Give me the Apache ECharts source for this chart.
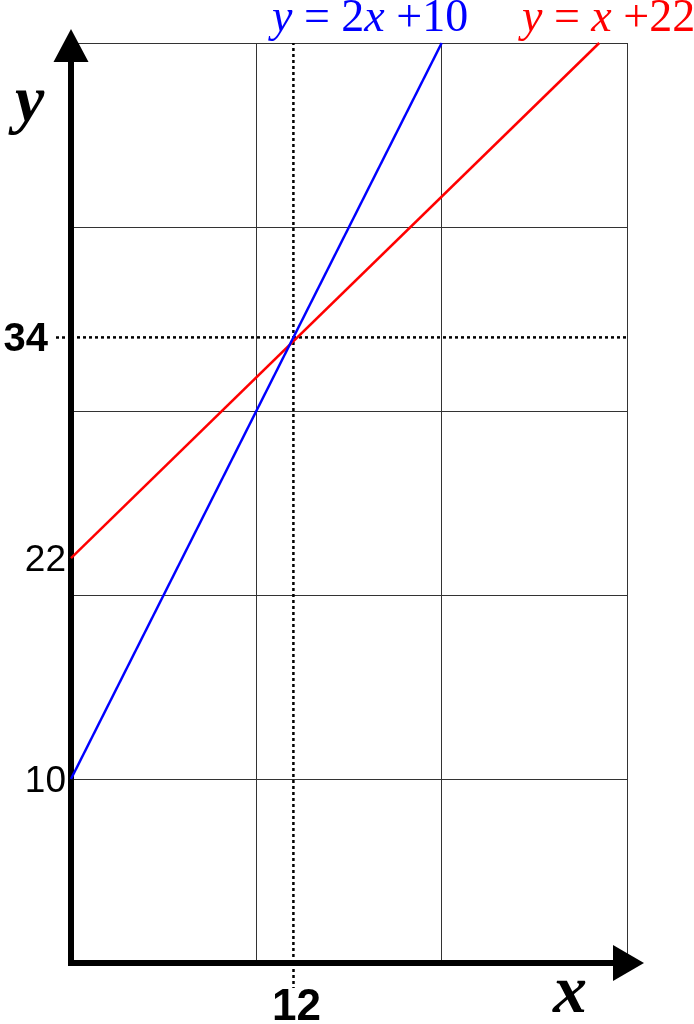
<!DOCTYPE html>
<html><head><meta charset="utf-8">
<script src="https://cdn.jsdelivr.net/npm/echarts@6/dist/echarts.min.js"></script>
<style>html,body{margin:0;padding:0;background:#fff}#c{width:694px;height:1024px}</style>
</head><body><div id="c"></div>
<script>
// ---- data ----
const xRange = [0, 30];
const yRange = [0, 50];
const gridStep = 10;
const blueX = [0, 20];
const blueY = [10, 50];
const redX = [0, 28.5];
const redY = [22, 50];
const guideX = 12;
const guideY = 34;
const yTickLabels = [10, 22, 34];
const xTickLabels = [12];
const boldTicks = [12, 34];
const blueLabelParts = [['y', true], [' = 2', false], ['x', true], [' +10', false]];
const redLabelParts = [['y', true], [' = ', false], ['x', true], [' +22', false]];
const axisNames = { x: 'x', y: 'y' };

// ---- chart ----
const serif = "'Liberation Serif','Times New Roman',serif";
const sans = "'Liberation Sans',Arial,sans-serif";
const zip = (xs, ys) => xs.map((x, i) => [x, ys[i]]);
const richText = parts => parts.map(p => (p[1] ? '{i|' : '{n|') + p[0] + '}').join('');
const tickFmt = v => (boldTicks.includes(v) ? '{b|' : '{n|') + v + '}';

const titleRich = color => ({
  i: { fontFamily: serif, fontStyle: 'italic', fontSize: 46, fill: color, color: color },
  n: { fontFamily: serif, fontSize: 46, fill: color, color: color }
});

const chart = echarts.init(document.getElementById('c'), null, { renderer: 'canvas' });
const option = {
  animation: false,
  backgroundColor: '#fff',
  grid: { left: 71, top: 43, right: 67, bottom: 61, outerBoundsMode: 'none' },
  xAxis: [
    {
      type: 'value', min: xRange[0], max: xRange[1], interval: gridStep,
      axisLine: { show: true, onZero: true, symbol: ['none', 'triangle'], symbolSize: [36, 31], symbolOffset: [0, 1.5],
        lineStyle: { color: '#000', width: 6, cap: 'square' } },
      axisTick: { show: false }, axisLabel: { show: false },
      splitLine: { show: true, lineStyle: { color: '#333', width: 1 } }
    },
    {
      type: 'value', min: xRange[0], max: xRange[1], position: 'bottom',
      axisLine: { show: false }, splitLine: { show: false },
      axisTick: { show: true, customValues: xTickLabels, length: 25, lineStyle: { color: '#000', width: 2.5, type: [3, 3] } },
      axisLabel: { show: true, customValues: xTickLabels, margin: 23, formatter: tickFmt,
        rich: { b: { fontFamily: sans, fontWeight: 'bold', fontSize: 44, color: '#000', padding: [0, 0, 0, 6] }, n: { fontFamily: sans, fontSize: 36, color: '#000' } } }
    }
  ],
  yAxis: [
    {
      type: 'value', min: yRange[0], max: yRange[1], interval: gridStep,
      axisLine: { show: true, onZero: true, symbol: ['none', 'triangle'], symbolSize: [35, 33], symbolOffset: [0, -2.5],
        lineStyle: { color: '#000', width: 6, cap: 'square' } },
      axisTick: { show: false }, axisLabel: { show: false },
      splitLine: { show: true, lineStyle: { color: '#333', width: 1 } }
    },
    {
      type: 'value', min: yRange[0], max: yRange[1], position: 'left',
      axisLine: { show: false }, splitLine: { show: false },
      axisTick: { show: true, customValues: [guideY], length: 18, lineStyle: { color: '#000', width: 2.5, type: [3, 3] } },
      axisLabel: { show: true, customValues: yTickLabels, margin: 5, formatter: tickFmt,
        rich: { b: { fontFamily: sans, fontWeight: 'bold', fontSize: 40, color: '#000', padding: [6, 18, 0, 0] },
                n: { fontFamily: sans, fontSize: 37, color: '#000', padding: [5, 0, 0, 0] } } }
    }
  ],
  series: [
    { type: 'line', data: [[guideX, yRange[0]], [guideX, yRange[1]]], symbol: 'none', silent: true, z: 3,
      lineStyle: { color: '#000', width: 2.5, type: [3, 3] } },
    { type: 'line', data: [[xRange[0], guideY], [xRange[1], guideY]], symbol: 'none', silent: true, z: 3,
      lineStyle: { color: '#000', width: 2.5, type: [3, 3] } },
    { type: 'line', data: zip(redX, redY), symbol: 'none', z: 4, lineStyle: { color: '#ff0000', width: 2.5 } },
    { type: 'line', data: zip(blueX, blueY), symbol: 'none', z: 4, lineStyle: { color: '#0000ff', width: 2.5 } }
  ],
  graphic: [
    { type: 'text', left: 272, top: -4, style: { text: richText(blueLabelParts), rich: titleRich('#0000ff'), fill: '#0000ff', fontFamily: serif, fontSize: 46 } },
    { type: 'text', left: 522, top: -4, style: { text: richText(redLabelParts), rich: titleRich('#ff0000'), fill: '#ff0000', fontFamily: serif, fontSize: 46 } },
    { type: 'text', left: 15, top: 71, style: { text: axisNames.y, fill: '#000', fontFamily: serif, fontStyle: 'italic', fontWeight: 'bold', fontSize: 66 } },
    { type: 'text', left: 553, top: 960, style: { text: axisNames.x, fill: '#000', fontFamily: serif, fontStyle: 'italic', fontWeight: 'bold', fontSize: 68 } }
  ]
};
chart.setOption(option);
</script>
</body></html>
